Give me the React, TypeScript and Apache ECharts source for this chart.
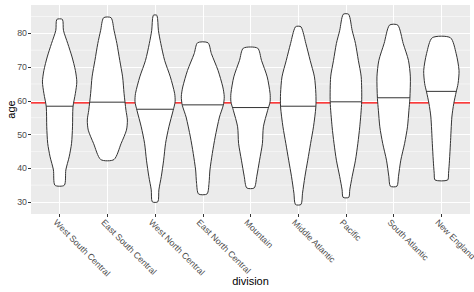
import React, { useEffect, useRef } from "react";
import * as echarts from "echarts";

const divisions = [
  "West South Central",
  "East South Central",
  "West North Central",
  "East North Central",
  "Mountain",
  "Middle Atlantic",
  "Pacific",
  "South Atlantic",
  "New England",
];

// medians of age per division
const medians = [58.4, 59.6, 57.5, 58.8, 58.0, 58.4, 59.7, 60.9, 62.8];
// overall mean (red reference line)
const overallMean = 59.4;

// violin profiles: [age, half-width in category units], top to bottom
const westSouthCentral = [[84.1, 0.06], [80.9, 0.08], [77, 0.17], [73, 0.26], [69, 0.33], [65.6, 0.36], [62.2, 0.33], [58.2, 0.28], [52.3, 0.27], [47.4, 0.25], [43.4, 0.2], [39.5, 0.13], [35, 0.1]];
const eastSouthCentral = [[84.6, 0.08], [80.9, 0.14], [77, 0.2], [72, 0.26], [67.1, 0.32], [62.2, 0.35], [57.2, 0.39], [54.3, 0.42], [51.3, 0.4], [47.4, 0.29], [42.6, 0.14]];
const westNorthCentral = [[85.3, 0.04], [80.9, 0.07], [77, 0.12], [72, 0.2], [67.1, 0.32], [62.2, 0.41], [59.7, 0.42], [57.2, 0.38], [52.3, 0.29], [47.4, 0.22], [42.4, 0.18], [37.5, 0.13], [33.6, 0.08], [30.1, 0.06]];
const eastNorthCentral = [[77.2, 0.11], [74, 0.18], [69, 0.32], [64.1, 0.42], [61.2, 0.45], [58.7, 0.43], [55.2, 0.35], [49.3, 0.26], [44.4, 0.2], [39.5, 0.15], [35.5, 0.13], [32.4, 0.09]];
const mountain = [[75.6, 0.15], [72, 0.23], [67.1, 0.35], [62.2, 0.41], [59.7, 0.41], [57.2, 0.36], [52.3, 0.27], [47.4, 0.25], [42.4, 0.19], [37.5, 0.13], [34.2, 0.08]];
const middleAtlantic = [[81.9, 0.06], [77, 0.16], [72, 0.25], [67.1, 0.34], [62.2, 0.37], [58.2, 0.37], [52.3, 0.32], [47.4, 0.26], [42.4, 0.2], [37.5, 0.14], [32.6, 0.09], [29.3, 0.06]];
const pacific = [[85.6, 0.06], [80.9, 0.13], [77, 0.2], [72, 0.26], [67.1, 0.32], [59.7, 0.33], [52.3, 0.29], [47.4, 0.25], [42.4, 0.2], [37.5, 0.13], [33.6, 0.08], [31.4, 0.06]];
const southAtlantic = [[82.4, 0.09], [77, 0.2], [72, 0.31], [67.1, 0.35], [60.7, 0.34], [57.2, 0.32], [52.3, 0.29], [47.4, 0.23], [42.4, 0.15], [37.5, 0.1], [34.7, 0.07]];
const newEngland = [[78.7, 0.19], [74, 0.31], [69, 0.37], [65.1, 0.35], [62.6, 0.31], [59.2, 0.26], [55.2, 0.22], [47.4, 0.19], [42.4, 0.17], [38.5, 0.15], [36.5, 0.13]];

const profiles = [
  westSouthCentral,
  eastSouthCentral,
  westNorthCentral,
  eastNorthCentral,
  mountain,
  middleAtlantic,
  pacific,
  southAtlantic,
  newEngland,
];

const yMajorTicks = [30, 40, 50, 60, 70, 80];
const yMinorTicks = [35, 45, 55, 65, 75, 85];
const xTicks = [0, 1, 2, 3, 4, 5, 6, 7, 8];

const FONT = "Liberation Sans, Arial, Helvetica, sans-serif";

function widthAt(prof: number[][], age: number): number {
  for (let k = 0; k < prof.length - 1; k++) {
    const [a0, w0] = prof[k];
    const [a1, w1] = prof[k + 1];
    if (age <= a0 && age >= a1) {
      const t = (a0 - age) / (a0 - a1);
      return w0 + (w1 - w0) * t;
    }
  }
  return prof[prof.length - 1][1];
}

function hLineRenderer(color: string, width: number) {
  return (params: any, api: any) => {
    const cs = params.coordSys;
    const y = api.coord([0, api.value(0)])[1];
    return {
      type: "line",
      shape: { x1: cs.x, y1: y, x2: cs.x + cs.width, y2: y },
      style: { stroke: color, lineWidth: width },
    };
  };
}

export default function App() {
  const ref = useRef<HTMLDivElement>(null);

  useEffect(() => {
    if (!ref.current) return;
    const chart = echarts.init(ref.current, null, { renderer: "svg" });

    const option: any = {
      animation: false,
      backgroundColor: "#FFFFFF",
      textStyle: { fontFamily: FONT },
      grid: {
        left: 31,
        right: 4,
        top: 5,
        bottom: 78,
        show: true,
        backgroundColor: "#EBEBEB",
        borderWidth: 0,
        containLabel: false,
        outerBoundsMode: "none",
      },
      xAxis: {
        type: "value",
        min: -0.6,
        max: 8.6,
        name: "division",
        nameLocation: "middle",
        nameGap: 61,
        nameMoveOverlap: false,
        nameTextStyle: { fontSize: 11, color: "#000000", fontFamily: FONT },
        axisLine: { show: false, onZero: false },
        axisTick: {
          show: true,
          length: 3,
          customValues: xTicks,
          lineStyle: { color: "#333333", width: 1 },
        },
        axisLabel: {
          show: true,
          customValues: xTicks,
          rotate: -45,
          margin: 2.4,
          fontSize: 8.8,
          color: "#4D4D4D",
          fontFamily: FONT,
          align: "left",
          verticalAlign: "top",
          padding: [2, 0, 0, 0],
          hideOverlap: false,
          formatter: (v: number) => divisions[Math.round(v)] ?? "",
        },
        splitLine: { show: true, lineStyle: { color: "#FFFFFF", width: 1.1 } },
      },
      yAxis: {
        type: "value",
        min: 26.45,
        max: 88.4,
        name: "age",
        nameLocation: "middle",
        nameGap: 15,
        nameRotate: 90,
        nameMoveOverlap: false,
        nameTextStyle: { fontSize: 11, color: "#000000", fontFamily: FONT },
        axisLine: { show: false, onZero: false },
        axisTick: {
          show: true,
          length: 3,
          customValues: yMajorTicks,
          lineStyle: { color: "#333333", width: 1 },
        },
        axisLabel: {
          show: true,
          customValues: yMajorTicks,
          margin: 4,
          fontSize: 8.8,
          color: "#4D4D4D",
          fontFamily: FONT,
        },
        splitLine: { show: true, lineStyle: { color: "#FFFFFF", width: 1.1 } },
      },
      series: [
        {
          type: "custom",
          name: "minor grid",
          z: 1,
          silent: true,
          data: yMinorTicks.map((v) => [v]),
          encode: { y: 0 },
          renderItem: hLineRenderer("#FFFFFF", 0.5),
        },
        {
          type: "custom",
          name: "mean",
          z: 2,
          silent: true,
          data: [[overallMean]],
          encode: { y: 0 },
          renderItem: hLineRenderer("#FF0000", 1.4),
        },
        {
          type: "custom",
          name: "violins",
          z: 10,
          data: divisions.map((_, i) => [i, medians[i]]),
          encode: { x: 0, y: 1 },
          renderItem: (params: any, api: any) => {
            const i = api.value(0);
            const med = api.value(1);
            const prof = profiles[i];
            const left = prof.map(([a, w]) => api.coord([i - w, a]));
            const right = prof
              .slice()
              .reverse()
              .map(([a, w]) => api.coord([i + w, a]));
            const mw = widthAt(prof, med);
            const p1 = api.coord([i - mw, med]);
            const p2 = api.coord([i + mw, med]);
            return {
              type: "group",
              children: [
                {
                  type: "polygon",
                  shape: { points: left.concat(right), smooth: 0.25 },
                  style: { fill: "#FFFFFF", stroke: "#333333", lineWidth: 1 },
                },
                {
                  type: "line",
                  shape: { x1: p1[0], y1: p1[1], x2: p2[0], y2: p2[1] },
                  style: { stroke: "#333333", lineWidth: 1 },
                },
              ],
            };
          },
        },
      ],
    };

    chart.setOption(option);
    return () => chart.dispose();
  }, []);

  return (
    <div
      ref={ref}
      style={{ position: "absolute", left: 0, top: 0, width: 474, height: 292 }}
    />
  );
}
